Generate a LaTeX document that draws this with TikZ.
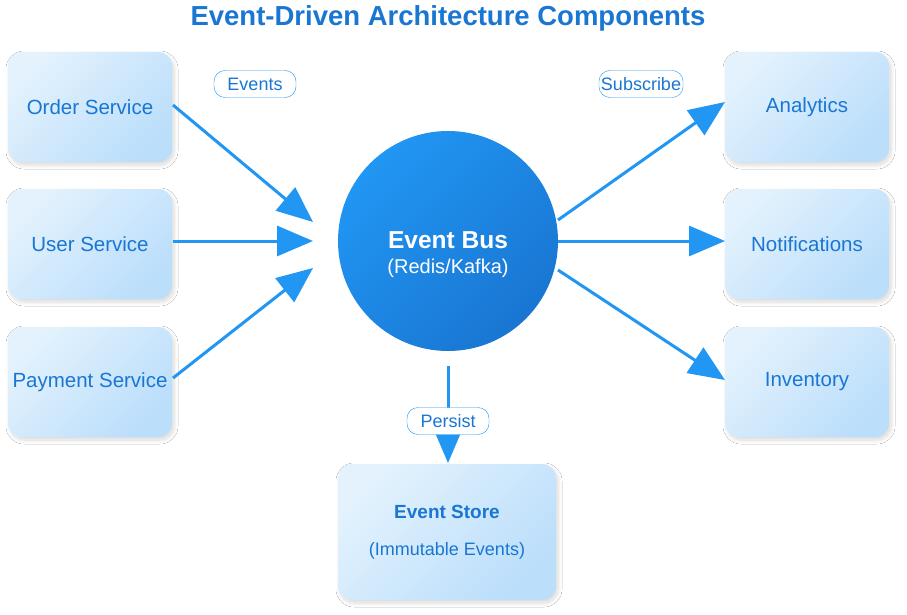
\documentclass[tikz,border=0pt]{standalone}
\usepackage{fontspec}
\setmainfont{Liberation Sans}
\usetikzlibrary{arrows.meta,shadows.blur}
\definecolor{txt}{HTML}{1976D2}
\definecolor{arr}{HTML}{2196F3}
\definecolor{lt}{HTML}{E3F2FD}
\definecolor{dk}{HTML}{BBDEFB}
\begin{document}
\begin{tikzpicture}[x=1pt,y=-1pt,
 box/.style={rounded corners=14pt,minimum width=164pt,minimum height=110pt,top color=lt,bottom color=dk,shading angle=45,draw=none,blur shadow={shadow blur steps=8,shadow xshift=2pt,shadow yshift=-3pt,shadow opacity=15,shadow blur radius=4pt},text=txt,font=\fontsize{20.5pt}{23pt}\selectfont,inner sep=0pt},
 con/.style={arr,line width=3pt,-{Triangle[length=36pt,width=30pt]}},
 pill/.style={draw=arr,fill=white,rounded corners=11pt,text=txt,font=\fontsize{18pt}{20pt}\selectfont,inner sep=2pt,minimum height=27pt}]
\useasboundingbox (0,0) rectangle (907,615);
\fill[white] (0,0) rectangle (907,615);
\node[text=txt,font=\bfseries\fontsize{27.5pt}{30pt}\selectfont] (title) at (448,18) {Event-Driven Architecture Components};
\node[box] (order) at (90,107) {Order Service};
\node[box] (user) at (90,244) {User Service};
\node[box] (pay) at (90,382) {Payment Service};
\node[box] (ana) at (807,107) {Analytics};
\node[box] (noti) at (807,244) {Notifications};
\node[box] (inv) at (807,382) {Inventory};
\node[box,minimum width=218pt,minimum height=136pt,align=center] (store) at (447,532) {\textbf{\fontsize{19pt}{21pt}\selectfont Event Store}\\[14pt]{\fontsize{18pt}{20pt}\selectfont(Immutable Events)}};
\node[circle,minimum size=220pt,inner sep=0pt,top color=arr,bottom color=txt,shading angle=45] (bus) at (448,241) {};
\node[text=white,font=\bfseries\fontsize{24.5pt}{26pt}\selectfont] (bust) at (448,240) {Event Bus};
\node[text=white,font=\fontsize{20pt}{22pt}\selectfont] (bussub) at (448,268) {(Redis/Kafka)};
\coordinate (o1) at (173,105); \coordinate (o2) at (313,222);
\coordinate (u1) at (173,241); \coordinate (u2) at (313,241);
\coordinate (p1) at (173,378); \coordinate (p2) at (313,268);
\coordinate (a1) at (558,220); \coordinate (a2) at (725,102);
\coordinate (n1) at (558,241); \coordinate (n2) at (725,241);
\coordinate (i1) at (558,270); \coordinate (i2) at (725,380);
\coordinate (s1) at (448,366); \coordinate (s2) at (448,463);
\draw[con] (o1) -- (o2);
\draw[con] (u1) -- (u2);
\draw[con] (p1) -- (p2);
\draw[con] (a1) -- (a2);
\draw[con] (n1) -- (n2);
\draw[con] (i1) -- (i2);
\draw[con] (s1) -- (s2);
\node[pill,minimum width=82pt] (ev) at (255,84) {Events};
\node[pill,minimum width=82pt] (sub) at (641,84) {Subscribe};
\node[pill,minimum width=82pt] (per) at (448,421) {Persist};
\end{tikzpicture}
\end{document}
